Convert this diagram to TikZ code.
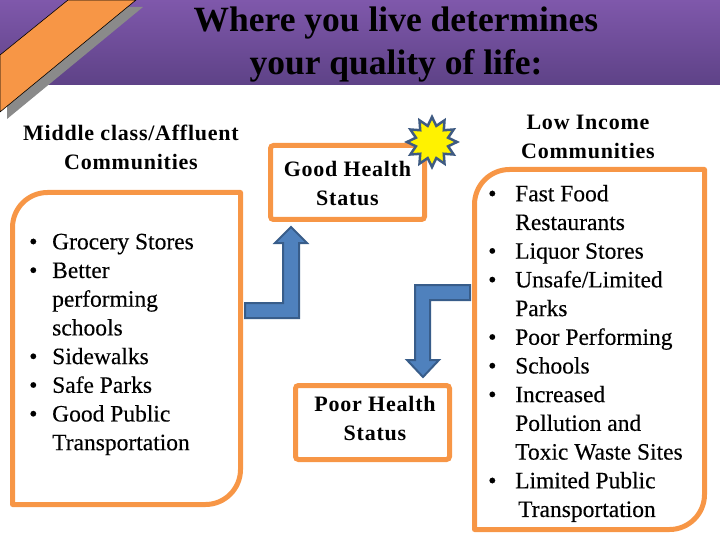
\documentclass[tikz,border=0pt]{standalone}
\usepackage{fontspec}
\setmainfont{Liberation Serif}
\newfontfamily\headfont[LetterSpace=3.5]{Liberation Serif}
\newfontfamily\bodyfont[FakeBold=0.3]{Liberation Serif}
\usetikzlibrary{shapes.geometric, positioning, calc}

\definecolor{bandtop}{HTML}{7F58AB}
\definecolor{bandbot}{HTML}{5E4287}
\definecolor{boxorange}{HTML}{F79646}
\definecolor{arrowblue}{HTML}{4F81BD}
\definecolor{arrowdark}{HTML}{385D8A}
\definecolor{burstline}{HTML}{3F5B82}
\definecolor{ribbongray}{HTML}{8A8A8A}

\begin{document}
\begin{tikzpicture}[
    x=1pt, y=-1pt,
    frame/.style = {draw=boxorange, line width=5pt, line join=round},
    area/.style = {inner sep=0pt, outer sep=0pt},
    healthbox/.style = {draw=boxorange, line width=5pt, rounded corners=3pt, minimum width=154pt, minimum height=74pt},
    head/.style = {align=center, font=\headfont\bfseries\fontsize{22}{29}\selectfont},
    list/.style = {anchor=north west, inner sep=0pt, font=\bodyfont\fontsize{23.5}{28.7}\selectfont},
    blockarrow/.style = {fill=arrowblue, draw=arrowdark, line width=2pt, line join=miter}
]
\useasboundingbox (0,0) rectangle (720,540);

% =========================================================
% TITLE BAND
% =========================================================
\shade[top color=bandtop, bottom color=bandbot] (0,0) rectangle (720,85);
\begin{scope}
  \clip (0,0) rectangle (720,540);
  \fill[ribbongray] (7,62) -- (75,7) -- (143,7) -- (7,119) -- cycle;
  \filldraw[fill=boxorange, draw=black, line width=0.6pt] (0,55) -- (68,0) -- (136,0) -- (0,112) -- cycle;
\end{scope}
\node[align=center, font=\bfseries\fontsize{35.5}{43}\selectfont] (title) at (396,45) {Where you live determines\\your quality of life:};

% =========================================================
% LEFT: Middle class / Affluent
% =========================================================
\node[area, minimum width=228pt, minimum height=312pt] (lbox) at (126.5,348.5) {};
\draw[frame] (lbox.south west) -- ([yshift=-35pt]lbox.north west)
             arc[start angle=180, end angle=90, radius=35pt]
             -- (lbox.north east) -- ([yshift=35pt]lbox.south east)
             arc[start angle=0, end angle=-90, radius=35pt] -- cycle;
\node[head, above=18.7pt of lbox, xshift=4.5pt] (lhead) {Middle class/Affluent\\Communities};
\node[list] (llist) at (29,229) {%
  \begin{tabular}{@{}c@{\hspace{14.8pt}}l@{}}
  \textbullet & Grocery Stores\\
  \textbullet & Better\\
              & performing\\
              & schools\\
  \textbullet & Sidewalks\\
  \textbullet & Safe Parks\\
  \textbullet & Good Public\\
              & Transportation
  \end{tabular}};

% =========================================================
% RIGHT: Low Income
% =========================================================
\node[area, minimum width=230pt, minimum height=360pt] (rbox) at (589.5,349.5) {};
\draw[frame] (rbox.south west) -- ([yshift=-35pt]rbox.north west)
             arc[start angle=180, end angle=90, radius=35pt]
             -- (rbox.north east) -- ([yshift=35pt]rbox.south east)
             arc[start angle=0, end angle=-90, radius=35pt] -- cycle;
\node[head, above=6.7pt of rbox, xshift=-1.5pt] (rhead) {Low Income\\Communities};
\node[list] (rlist) at (488,181) {%
  \begin{tabular}{@{}c@{\hspace{18.8pt}}l@{}}
  \textbullet & Fast Food\\
              & Restaurants\\
  \textbullet & Liquor Stores\\
  \textbullet & Unsafe/Limited\\
              & Parks\\
  \textbullet & Poor Performing\\
  \textbullet & Schools\\
  \textbullet & Increased\\
              & Pollution and\\
              & Toxic Waste Sites\\
  \textbullet & Limited Public\\
              & \hspace{3pt}Transportation
  \end{tabular}};

% =========================================================
% MIDDLE: Health status
% =========================================================
\node[healthbox] (good) at (347.5,182.5) {};
\node[head] (goodtext) at ($(good.center)+(0,1)$) {Good Health\\Status};
\node[healthbox] (poor) at (372.5,422.5) {};
\node[head] (poortext) at ($(poor.center)+(2.5,-4)$) {Poor Health\\Status};
\node[star, star points=12, star point ratio=1.5, minimum size=50pt, inner sep=0pt,
      fill=yellow, draw=burstline, line width=2.5pt] (burst) at ($(good.north east)+(5,-1)$) {};

% =========================================================
% BLOCK ARROWS
% =========================================================
\coordinate (uptip) at ($(good.south west)+(23,5)$);
\draw[blockarrow] (uptip) -- ++(16,16) -- ++(-8,0) -- ++(0,75) -- ++(-54,0)
                  -- ++(0,-15) -- ++(38,0) -- ++(0,-60) -- ++(-8,0) -- cycle;

\coordinate (downtip) at ($(poor.north west)+(130,-6)$);
\draw[blockarrow] (downtip) -- ++(16,-17) -- ++(-9,0) -- ++(0,-60) -- ++(40,0)
                  -- ++(0,-15) -- ++(-55,0) -- ++(0,75) -- ++(-8,0) -- cycle;

\end{tikzpicture}
\end{document}
